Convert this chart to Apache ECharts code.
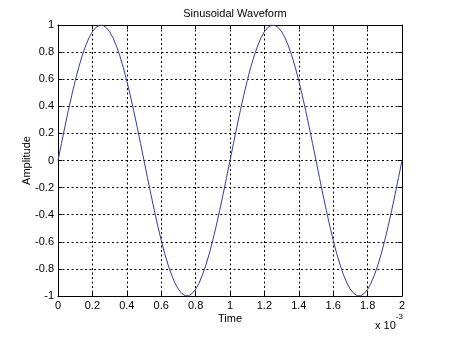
<!DOCTYPE html>
<html>
<head>
<meta charset="utf-8">
<script src="https://cdn.jsdelivr.net/npm/echarts@6/dist/echarts.min.js"></script>
<style>html,body{margin:0;padding:0;background:#fff}#c{width:474px;height:362px}</style>
</head>
<body>
<div id="c"></div>
<script>
// Time in units of 1e-3 s
var timeValues = [0,0.02,0.04,0.06,0.08,0.1,0.12,0.14,0.16,0.18,0.2,0.22,0.24,0.26,0.28,0.3,0.32,0.34,0.36,0.38,
  0.4,0.42,0.44,0.46,0.48,0.5,0.52,0.54,0.56,0.58,0.6,0.62,0.64,0.66,0.68,0.7,0.72,0.74,0.76,0.78,
  0.8,0.82,0.84,0.86,0.88,0.9,0.92,0.94,0.96,0.98,1,1.02,1.04,1.06,1.08,1.1,1.12,1.14,1.16,1.18,
  1.2,1.22,1.24,1.26,1.28,1.3,1.32,1.34,1.36,1.38,1.4,1.42,1.44,1.46,1.48,1.5,1.52,1.54,1.56,1.58,
  1.6,1.62,1.64,1.66,1.68,1.7,1.72,1.74,1.76,1.78,1.8,1.82,1.84,1.86,1.88,1.9,1.92,1.94,1.96,1.98,2];
var amplitudeValues = [
  0,0.125,0.249,0.368,0.482,0.588,0.685,0.771,0.844,0.905,0.951,0.982,0.998,0.998,0.982,0.951,0.905,0.844,0.771,0.685,0.588,0.482,0.368,0.249,0.125,
  0,-0.125,-0.249,-0.368,-0.482,-0.588,-0.685,-0.771,-0.844,-0.905,-0.951,-0.982,-0.998,-0.998,-0.982,-0.951,-0.905,-0.844,-0.771,-0.685,-0.588,-0.482,-0.368,-0.249,-0.125,
  0,0.125,0.249,0.368,0.482,0.588,0.685,0.771,0.844,0.905,0.951,0.982,0.998,0.998,0.982,0.951,0.905,0.844,0.771,0.685,0.588,0.482,0.368,0.249,0.125,
  0,-0.125,-0.249,-0.368,-0.482,-0.588,-0.685,-0.771,-0.844,-0.905,-0.951,-0.982,-0.998,-0.998,-0.982,-0.951,-0.905,-0.844,-0.771,-0.685,-0.588,-0.482,-0.368,-0.249,-0.125,
  0];
var xTickStep = 0.2;
var yTickStep = 0.2;

var data = timeValues.map(function(t,i){return [t, amplitudeValues[i]];});
var font = 'Liberation Sans, Arial, sans-serif';
function fmt(v){ return String(parseFloat(v.toFixed(2))); }

var chart = echarts.init(document.getElementById('c'), null, {renderer:'canvas'});
chart.setOption({
  animation:false,
  backgroundColor:'#ffffff',
  title:{text:'Sinusoidal Waveform', left:230, top:3, textAlign:'center',
    textStyle:{fontFamily:font, fontSize:11, fontWeight:'normal', color:'#000'}},
  grid:{left:58, right:72, top:25, bottom:66, containLabel:false},
  xAxis:[{
    type:'value', min:0, max:2, interval:xTickStep,
    name:'Time', nameLocation:'middle', nameGap:17, nameMoveOverlap:false,
    nameTextStyle:{fontFamily:font, fontSize:11, color:'#000'},
    axisLine:{show:true, onZero:false, lineStyle:{color:'#000', width:1}},
    axisTick:{show:true, inside:true, length:4, lineStyle:{color:'#000'}},
    axisLabel:{fontFamily:font, fontSize:11, color:'#000', margin:4, formatter:fmt},
    splitLine:{show:true, lineStyle:{color:'#000', type:[2,2.5], width:1}}
  },{
    type:'value', min:0, max:2, interval:xTickStep, position:'top',
    axisLine:{show:true, onZero:false, lineStyle:{color:'#000', width:1}},
    axisTick:{show:true, inside:true, length:4, lineStyle:{color:'#000'}},
    axisLabel:{show:false}, splitLine:{show:false}
  }],
  yAxis:[{
    type:'value', min:-1, max:1, interval:yTickStep,
    name:'Amplitude', nameLocation:'middle', nameGap:26, nameMoveOverlap:false,
    nameTextStyle:{fontFamily:font, fontSize:11, color:'#000'},
    axisLine:{show:true, onZero:false, lineStyle:{color:'#000', width:1}},
    axisTick:{show:true, inside:true, length:4, lineStyle:{color:'#000'}},
    axisLabel:{fontFamily:font, fontSize:11, color:'#000', margin:4, formatter:fmt},
    splitLine:{show:true, lineStyle:{color:'#000', type:[2,2.5], width:1}}
  },{
    type:'value', min:-1, max:1, interval:yTickStep, position:'right',
    axisLine:{show:true, onZero:false, lineStyle:{color:'#000', width:1}},
    axisTick:{show:true, inside:true, length:4, lineStyle:{color:'#000'}},
    axisLabel:{show:false}, splitLine:{show:false}
  }],
  graphic:[{
    type:'text', left:375, top:313,
    style:{
      text:'{a|x 10}{b|-3}',
      rich:{
        a:{fontFamily:font, fontSize:11, fill:'#000', padding:[7,0,0,0]},
        b:{fontFamily:font, fontSize:8, fill:'#000', verticalAlign:'top'}
      }
    }
  }],
  series:[{
    type:'line', data:data, xAxisIndex:0, yAxisIndex:0,
    smooth:false, showSymbol:false,
    lineStyle:{color:'#3a3a90', width:1}
  }]
});
</script>
</body>
</html>
